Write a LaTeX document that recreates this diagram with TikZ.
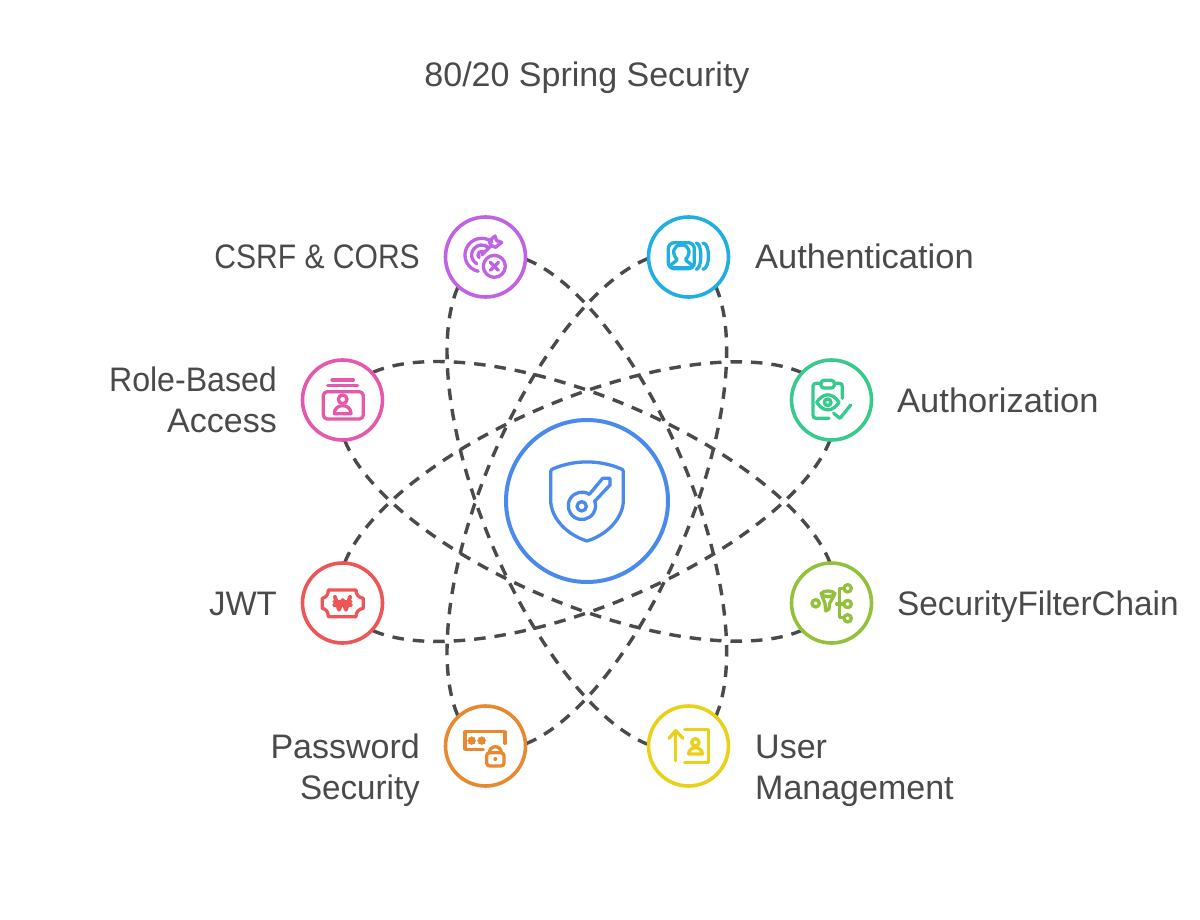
\documentclass[tikz,border=0pt]{standalone}
\usepackage{fontspec}
\setmainfont{Liberation Sans}
\usetikzlibrary{backgrounds}
\definecolor{ink}{HTML}{4A4A4A}
\definecolor{cCsrf}{HTML}{C062E6}
\definecolor{cAuth}{HTML}{1FAFE0}
\definecolor{cRole}{HTML}{E658AA}
\definecolor{cAuthz}{HTML}{36CB8C}
\definecolor{cJwt}{HTML}{EC5656}
\definecolor{cSfc}{HTML}{93C13C}
\definecolor{cPass}{HTML}{E6892F}
\definecolor{cUser}{HTML}{E8D118}
\definecolor{cCore}{HTML}{4A8AEC}
\tikzset{
  hub/.style={circle,draw=#1,fill=white,line width=3.6pt,minimum size=80pt,inner sep=0pt},
  corehub/.style={circle,draw=#1,fill=white,line width=4pt,minimum size=162pt,inner sep=0pt},
  lab/.style={text=ink,inner sep=0pt,text height=24pt,text depth=0pt,font=\fontsize{34}{41}\selectfont},
  labL/.style={lab,anchor=east,align=right},
  labR/.style={lab,anchor=west,align=left},
  orbit/.style={draw=ink,line width=3.4pt,dash pattern=on 11.5pt off 9pt},
  glyph/.style={line width=3.3pt,line cap=round,line join=round}
}
\newcommand{\iconat}[6]{\begin{scope}[shift={(#1,#2)},x=.33333pt,y=-.33333pt,shift={(-#3,-#4)},glyph,draw=#5,fill=none]#6\end{scope}}
\newcommand{\xs}[2]{\scalebox{#1}[1]{#2}}
\begin{document}
\begin{tikzpicture}[x=1pt,y=-1pt]
\useasboundingbox (0,0) rectangle (1200,920);
\node[text=ink,inner sep=0pt,font=\fontsize{34}{41}\selectfont] (title) at (587,78) {80/20 Spring Security};
\node[corehub=cCore] (core) at (587,501) {};
\node[hub=cCsrf] (csrf) at (485.5,257) {};
\node[hub=cAuth] (auth) at (688.5,257) {};
\node[hub=cRole] (role) at (342.5,400) {};
\node[hub=cAuthz] (authz) at (831.5,400) {};
\node[hub=cJwt] (jwt) at (342.5,603) {};
\node[hub=cSfc] (sfc) at (831.5,603) {};
\node[hub=cPass] (pass) at (485.5,746) {};
\node[hub=cUser] (user) at (688.5,746) {};
\node[labL] (lcsrf) at (420,257) {\xs{.884}{CSRF \& CORS}};
\node[labR] (lauth) at (755,257) {\xs{1.014}{Authentication}};
\node[labL] (lrole) at (277,420.5) {\xs{.944}{Role-Based}\\Access};
\node[labR] (lauthz) at (897,400) {\xs{1.015}{Authorization}};
\node[labL] (ljwt) at (277,603) {\xs{.97}{JWT}};
\node[labR] (lsfc) at (897,603) {\xs{.98}{SecurityFilterChain}};
\node[labL] (lpass) at (420,787.5) {Password\\\xs{.975}{Security}};
\node[labR] (luser) at (755,787.5) {User\\Management};
\begin{scope}[on background layer]
\fill[white] (0,0) rectangle (1200,920);
\draw[orbit,rotate=-67.4] (user.center) arc[start angle=0,end angle=180,x radius=264.5pt,y radius=104pt];
\draw[orbit,rotate=-67.4] (user.center) arc[start angle=360,end angle=180,x radius=264.5pt,y radius=104pt];
\draw[orbit,rotate=67.4] (auth.center) arc[start angle=0,end angle=180,x radius=264.5pt,y radius=104pt];
\draw[orbit,rotate=67.4] (auth.center) arc[start angle=360,end angle=180,x radius=264.5pt,y radius=104pt];
\draw[orbit,rotate=-22.6] (sfc.center) arc[start angle=0,end angle=180,x radius=264.5pt,y radius=104pt];
\draw[orbit,rotate=-22.6] (sfc.center) arc[start angle=360,end angle=180,x radius=264.5pt,y radius=104pt];
\draw[orbit,rotate=22.6] (authz.center) arc[start angle=0,end angle=180,x radius=264.5pt,y radius=104pt];
\draw[orbit,rotate=22.6] (authz.center) arc[start angle=360,end angle=180,x radius=264.5pt,y radius=104pt];
\end{scope}
% core icon
\iconat{587}{501}{261}{258}{cCore}{
 \draw (152,170) .. controls (152,165) and (155,163) .. (160,161) .. controls (225,134) and (297,134) .. (362,161) .. controls (367,163) and (370,165) .. (370,170) -- (370,255) .. controls (370,310) and (320,360) .. (261,378) .. controls (202,360) and (152,310) .. (152,255) -- cycle;
 \draw (245,274) circle[radius=14];
 \draw (285,258) -- (330,210) -- (330,190) -- (308,190) -- (268,238) arc[start angle=-57,end angle=-382,radius=41];
}
% csrf
\iconat{485}{257}{135}{141}{cCsrf}{
 \draw (125,135) ++(-52:50) arc[start angle=-52,end angle=-258,radius=50];
 \draw (125,135) ++(-52:30) arc[start angle=-52,end angle=-240,radius=30];
 \draw (125,135) ++(-45:11) arc[start angle=-45,end angle=-225,radius=11];
 \draw (125,135) -- (155,105);
 \draw (148,93) -- (165,78) -- (170,92) -- (185,97) -- (167,112) -- (152,106) -- cycle;
 \draw (163,169) circle[radius=33];
 \draw (151,157) -- (175,181) (175,157) -- (151,181);
}
% auth
\iconat{688}{257}{745}{141}{cAuth}{
 \draw[rounded corners=6pt] (686,98) rectangle (764,176);
 \draw (712,148) .. controls (695,130) and (700,105) .. (725,105) .. controls (750,105) and (755,130) .. (738,148) .. controls (740,156) and (752,158) .. (758,166) (712,148) .. controls (710,156) and (698,158) .. (692,166);
 \draw (692,172) -- (758,172);
 \draw (770,99) .. controls (788,100) and (788,175) .. (770,178);
 \draw (790,99) .. controls (812,100) and (812,175) .. (790,178);
}
% role
\iconat{342}{400}{141}{135}{cRole}{
 \draw (111,75) -- (175,75) (98,91) -- (188,91);
 \draw[rounded corners=4pt] (85,110) rectangle (205,192);
 \draw (143,133) circle[radius=13];
 \draw (118,176) .. controls (118,160) and (130,152) .. (143,152) .. controls (156,152) and (168,160) .. (168,176) -- cycle;
}
% authz
\iconat{832}{400}{141}{135}{cAuthz}{
 \draw (108,85) -- (93,85) .. controls (87,85) and (84,88) .. (84,94) -- (84,180) .. controls (84,187) and (87,190) .. (93,190) -- (132,190);
 \draw (148,85) -- (163,85) .. controls (169,85) and (172,88) .. (172,94) -- (172,130);
 \draw[rounded corners=3pt] (108,76) rectangle (148,99);
 \draw (95,142) .. controls (115,112) and (142,112) .. (162,142) .. controls (142,172) and (115,172) .. (95,142) -- cycle;
 \draw (128,142) circle[radius=10];
 \draw (146,175) -- (165,190) -- (197,150);
}
% jwt
\iconat{342}{603}{141}{744}{cJwt}{
 \draw (100,705) -- (183,705) .. controls (183,720) and (192,728) .. (205,730) -- (205,760) .. controls (192,762) and (183,770) .. (183,785) -- (100,785) .. controls (100,770) and (92,762) .. (82,760) -- (82,730) .. controls (92,728) and (100,720) .. (100,705) -- cycle;
 \draw[line width=4pt] (120,726) -- (132,764) -- (143,735) -- (153,764) -- (165,726);
 \draw (117,740) -- (168,740) (117,750) -- (168,750);
}
% sfc
\iconat{832}{603}{141}{744}{cSfc}{
 \draw (92,745) circle[radius=11];
 \draw (108,716) .. controls (115,705) and (143,705) .. (150,716) .. controls (143,728) and (115,728) .. (108,716) -- cycle;
 \draw (110,720) -- (120,745) -- (122,768) -- (132,762) -- (134,745) -- (148,720);
 \draw (155,747) -- (177,747);
 \draw (177,700) -- (163,700) -- (163,788) -- (177,788);
 \draw (188,700) circle[radius=11];
 \draw (188,747) circle[radius=11];
 \draw (188,790) circle[radius=11];
}
% pass
\iconat{485}{746}{135}{138}{cPass}{
 \draw (195,130) -- (195,95) -- (75,95) -- (75,148) -- (130,148);
 \draw[line width=2.4pt] (85,122) -- (105,122) (95,112) -- (95,132) (88,115) -- (102,129) (102,115) -- (88,129);
 \draw[line width=2.4pt] (115,122) -- (135,122) (125,112) -- (125,132) (118,115) -- (132,129) (132,115) -- (118,129);
 \draw[rounded corners=3pt] (140,158) rectangle (192,198);
 \draw (148,158) arc[start angle=180,end angle=360,radius=18];
 \fill[cPass] (166,177) circle[radius=6];
}
% user
\iconat{688}{746}{745}{138}{cUser}{
 \draw (708,182) -- (708,92);
 \draw (688,115) -- (708,92) -- (730,115);
 \draw (735,88) -- (807,88) -- (807,187) -- (735,187);
 \draw (767,127) circle[radius=11];
 \draw (747,162) .. controls (747,150) and (757,143) .. (767,143) .. controls (777,143) and (788,150) .. (788,162) -- cycle;
}
\end{tikzpicture}
\end{document}
